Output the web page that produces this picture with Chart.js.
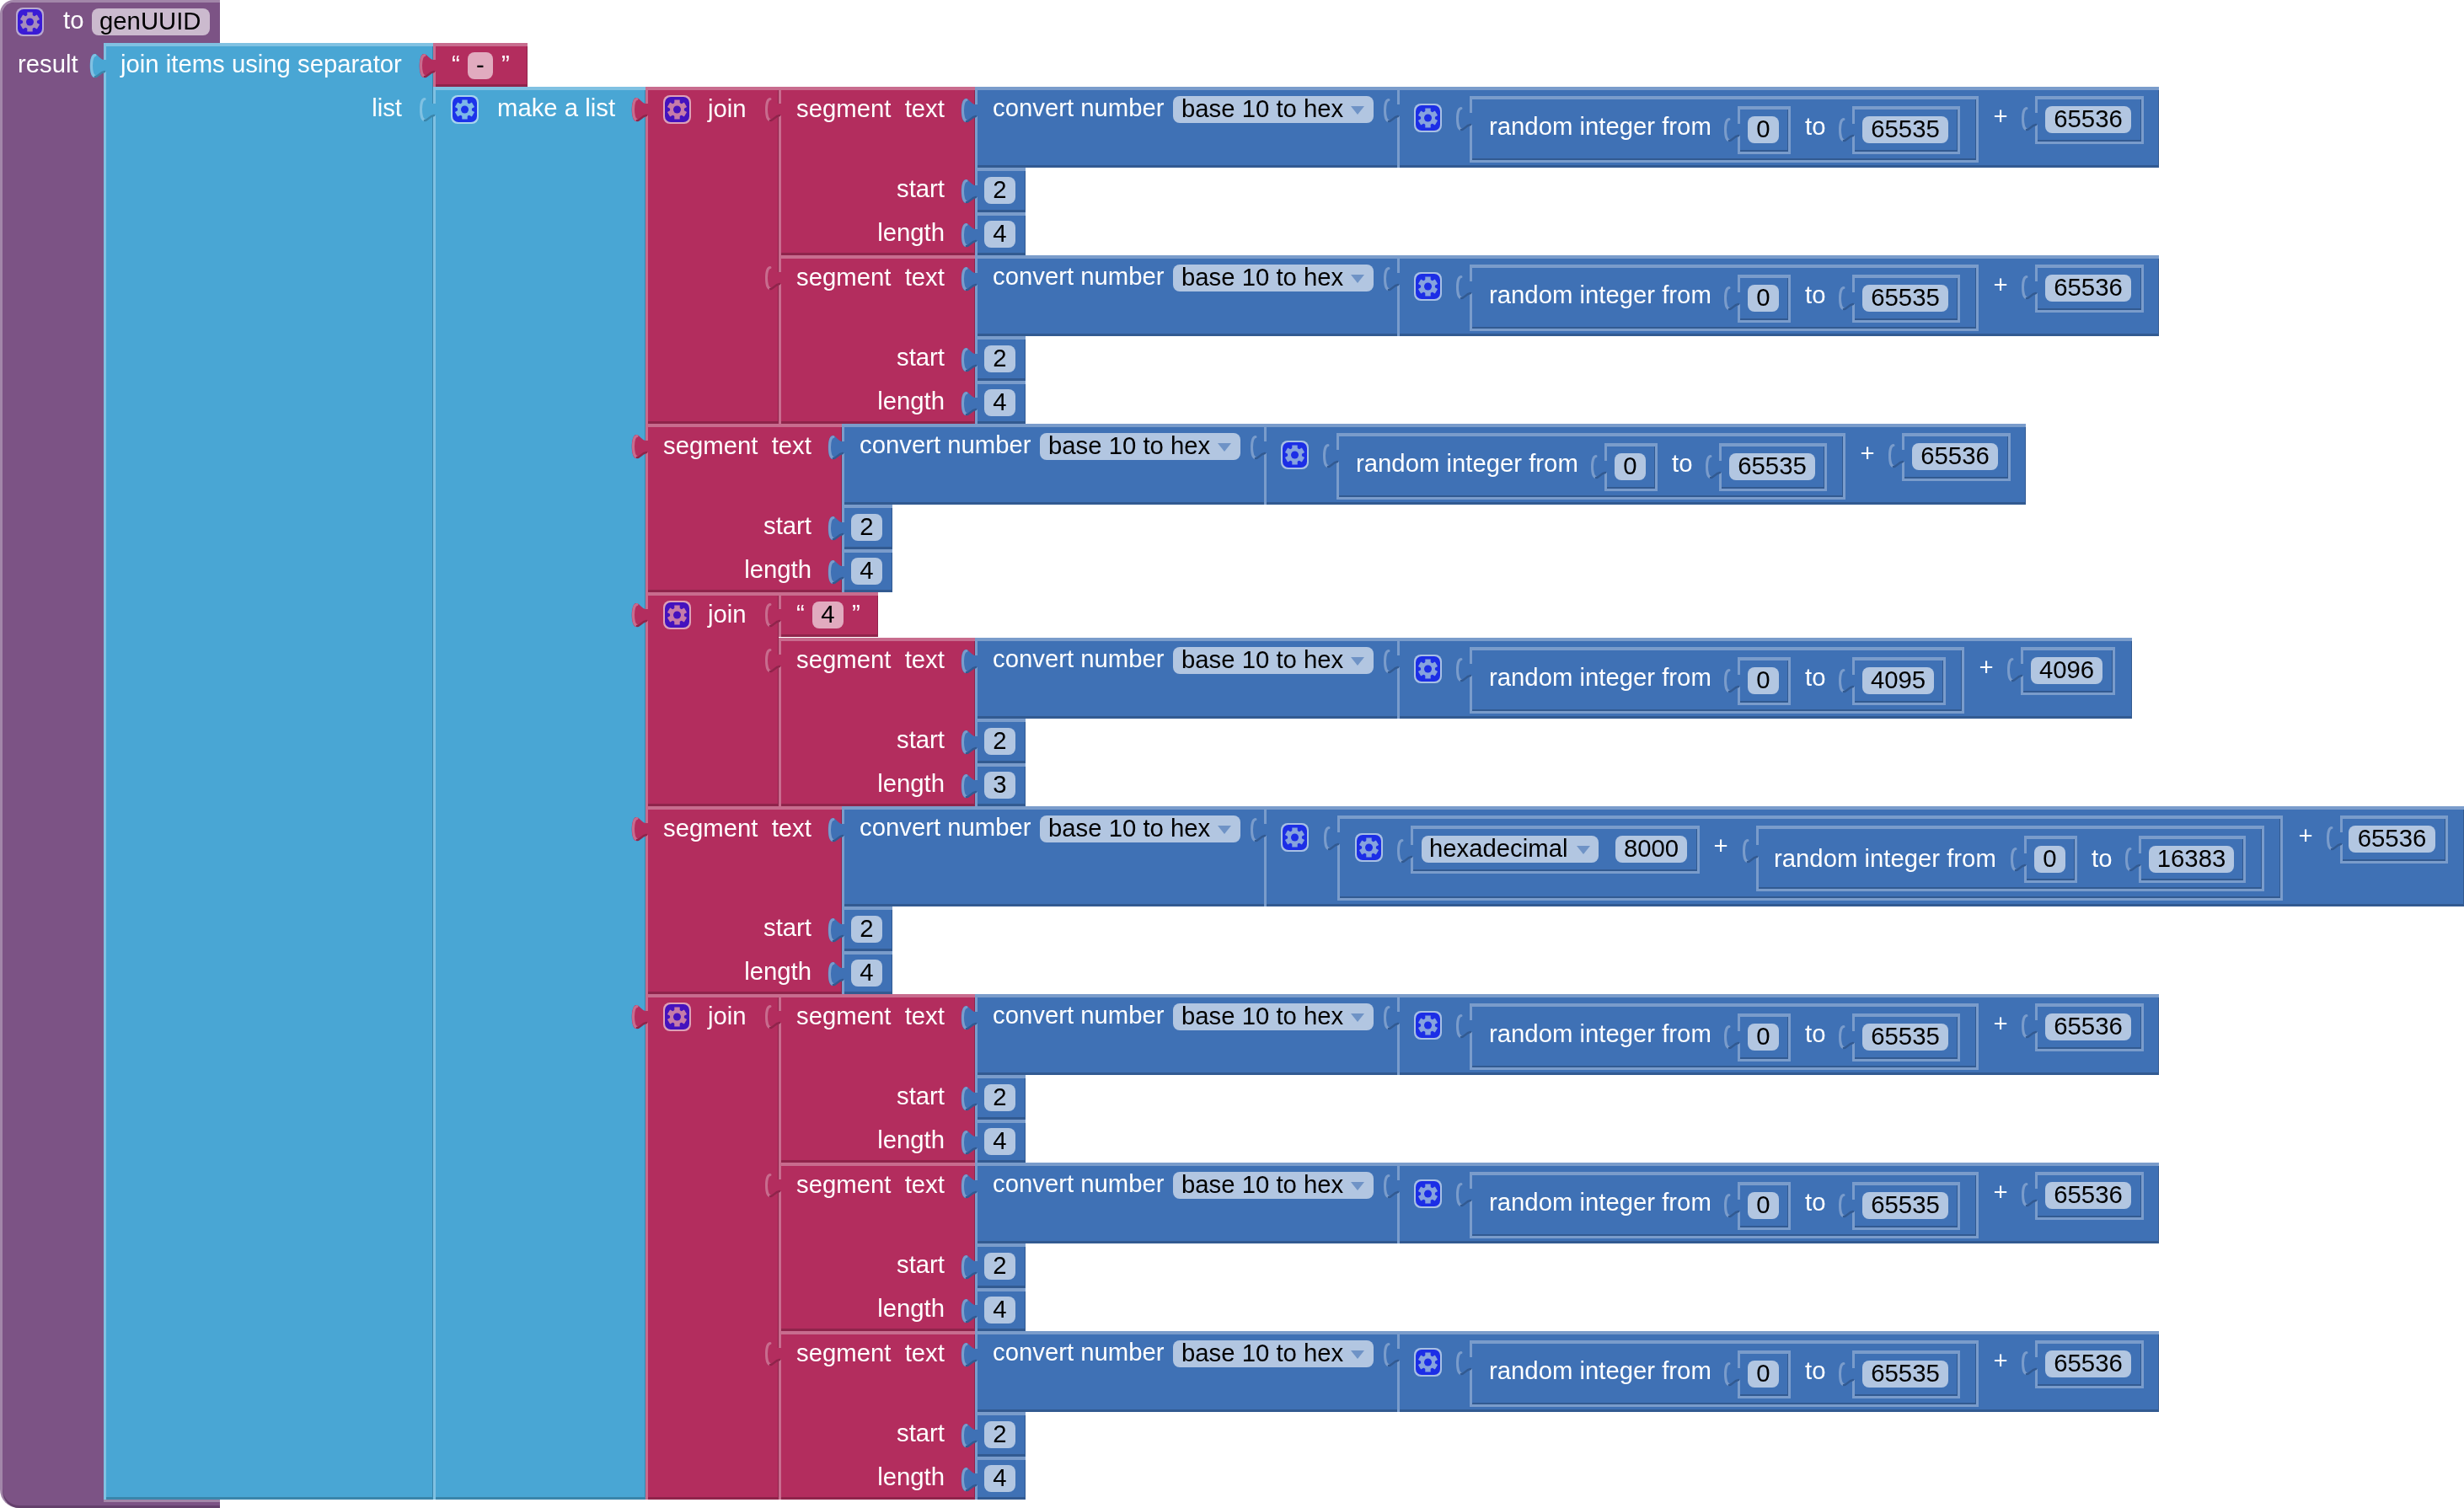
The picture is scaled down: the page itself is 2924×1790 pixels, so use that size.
<!DOCTYPE html>
<html><head><meta charset="utf-8">
<style>html,body{margin:0;padding:0;background:#fff}canvas{display:block}</style>
<script src="https://cdn.jsdelivr.net/npm/chart.js@4"></script>
</head><body><canvas id="c" width="2924" height="1790"></canvas>
<script>
// ---- content ----
const procedureName = "genUUID";
const separator = "-";
const versionDigit = "4";
const hexBaseLabel = "hexadecimal";
const hexBaseValue = "8000";
const convertMode = "base 10 to hex";
const segmentStart = [2, 2, 2, 2, 2, 2, 2, 2];
const segmentLength = [4, 4, 4, 3, 4, 4, 4, 4];
const randomLow = [0, 0, 0, 0, 0, 0, 0, 0];
const randomHigh = [65535, 65535, 65535, 4095, 16383, 65535, 65535, 65535];
const addend = [65536, 65536, 65536, 4096, 65536, 65536, 65536, 65536];
const hexSegment = 4;
const listItems = [["join", [0, 1]], ["seg", [2]], ["joinText", [3]], ["seg", [4]], ["join", [5, 6, 7]]];

// ---- styles ----
const PURPLE = {b:"#7C5385", l:"#A286A9", d:"#64406C", pill:"#CBBACE", sq:"#3A1BD6", sqb:"#B9A9D0", g:"#A58CBC"};
const SKY = {b:"#49A6D4", l:"#80C1E2", d:"#3A85AA", sq:"#1C33EA", sqb:"#A8D4EE", g:"#7DB8E8"};
const RED = {b:"#B32D5E", l:"#C86C8E", d:"#8F244B", pill:"#E1ABBF", sq:"#4412BE", sqb:"#DDA0B8", g:"#C67CA8"};
const BLUE = {b:"#3F71B5", l:"#7A9CCB", d:"#325A91", pill:"#B2C6E1", sq:"#1C2EE6", sqb:"#A8C0E4", g:"#86A3DE"};
const FONT = '29.3px "Liberation Sans", Arial, sans-serif';

// ---- scene assembly ----
const rects = [], labels = [], tabs = [], gears = [], arrows = [];
const rect = (x, y, w, h, color, radius) => rects.push({x, y, w, h, color, radius: radius || 0});
function box(x, y, w, h, c, nested) {
  rect(x, y, w, h, c.b);
  rect(x, y + h - 3, w, 3, c.d);
  if (nested) {
    rect(x + w - 3, y, 3, h, c.l);
    rect(x, y + h - 3, w, 3, c.l);
    rect(x + 3, y + h - 5, w - 6, 2, c.d);
    rect(x + w - 4, y + 4, 1, h - 8, c.d);
  } else {
    rect(x + w - 1, y + 3, 1, h - 3, c.d);
  }
  rect(x, y, w, 4, c.l);
  rect(x, y, 3, h, c.l);
}
const text = (s, x, y, color, align) => labels.push({s: String(s), x, y, color: color || "#fff", align: align || "left"});
const tab = (x, yc, c) => tabs.push({x, yc, c});
function gear(x, y, c) {
  rect(x, y, 33, 34, c.sqb, 8);
  rect(x + 2, y + 2, 29, 30, c.sq, 7);
  gears.push({cx: x + 16.5, cy: y + 17, c});
}
function pill(x, y, w, s, c) {
  rect(x, y, w, 32, c.pill, 8);
  text(s, x + w / 2, y + 25, "#000", "center");
}
function numBlock(x, y, h, pw, pillY, s) {
  box(x, y, pw + 26, h, BLUE, true);
  tab(x, pillY + 16, BLUE);
  pill(x + 12, pillY, pw, s, BLUE);
}
const pw = v => String(v).length >= 5 ? 102 : (String(v).length === 4 ? 85 : 37);

function randomBlock(x, y, low, high) {
  const zx = x + 318, hx = zx + 136;
  const hw = pw(high);
  const right = hx + hw + 26 + 22;
  box(x, y, right - x, 79, BLUE, true);
  tab(x, y + 27, BLUE);
  text("random integer from", x + 23, y + 46);
  numBlock(zx, y + 12, 57, 37, y + 24, low);
  text("to", zx + 80, y + 46);
  box(hx, y + 12, hw + 26, 57, BLUE, true);
  tab(hx, y + 40, BLUE);
  pill(hx + 12, y + 24, hw, high, BLUE);
  return right;
}
function convertBlock(x, y, i) {
  const hex = i === hexSegment;
  const h = hex ? 119 : 96, dv = x + 501;
  let right;
  if (hex) {
    right = 2924;
    box(x, y, right - x, h, BLUE);
    box(dv, y, right - dv, h, BLUE);
    gear(dv + 20, y + 20, BLUE);
    const ox = dv + 87;
    const outerR = ox + 1122;
    box(ox, y + 11, outerR - ox, 101, BLUE, true);
    tab(ox, y + 38, BLUE);
    gear(ox + 21, y + 32, BLUE);
    const hxL = ox + 87;
    box(hxL, y + 23, 343, 57, BLUE, true);
    tab(hxL, y + 53, BLUE);
    rect(hxL + 13, y + 35, 210, 32, BLUE.pill, 8);
    text(hexBaseLabel, hxL + 22, y + 60, "#000");
    arrows.push({x: hxL + 205, y: y + 51});
    pill(hxL + 243, y + 35, 85, hexBaseValue, BLUE);
    text("+", hxL + 368, y + 57, "#fff", "center");
    const rx = hxL + 410;
    const rR = rx + 603;
    box(rx, y + 23, rR - rx, 78, BLUE, true);
    tab(rx, y + 53, BLUE);
    text("random integer from", rx + 21, y + 72);
    numBlock(rx + 318, y + 35, 56, 37, y + 47, randomLow[i]);
    text("to", rx + 398, y + 72);
    box(rx + 454, y + 35, 127, 56, BLUE, true);
    tab(rx + 454, y + 63, BLUE);
    pill(rx + 466, y + 47, 101, randomHigh[i], BLUE);
    text("+", outerR + 27, y + 45, "#fff", "center");
    const ax = outerR + 68;
    box(ax, y + 11, 128, 57, BLUE, true);
    tab(ax, y + 38, BLUE);
    pill(ax + 10, y + 23, 103, addend[i], BLUE);
  } else {
    const hw = pw(randomHigh[i]);
    const rR0 = dv + 86 + 318 + 136 + hw + 48;
    const plusX = rR0 + 26, ax = rR0 + 67, aw = pw(addend[i]);
    right = ax + aw + 27 + (aw === 102 ? 18 : 20);
    box(x, y, right - x, h, BLUE);
    box(dv, y, right - dv, h, BLUE);
    gear(dv + 20, y + 20, BLUE);
    randomBlock(dv + 86, y + 11, randomLow[i], randomHigh[i]);
    text("+", plusX, y + 45, "#fff", "center");
    box(ax, y + 11, aw + 27, 57, BLUE, true);
    tab(ax, y + 38, BLUE);
    pill(ax + 12, y + 23, aw, addend[i], BLUE);
  }
  text("convert number", x + 21, y + 35);
  rect(x + 235, y + 11, 238, 32, BLUE.pill, 8);
  text(convertMode, x + 245, y + 36, "#000");
  arrows.push({x: x + 454, y: y + 27});
  tab(dv, y + 28, BLUE);
  tab(x, y + 28, BLUE);
  return h;
}
function segmentBlock(x, y, i) {
  const cH = i === hexSegment ? 119 : 96, h = cH + 104, cx = x + 233;
  box(x, y, 233, h, RED);
  tab(x, y + 27, RED);
  text("segment  text", x + 21, y + 36);
  convertBlock(cx, y, i);
  const sy = y + cH;
  box(cx, sy, 60, 53, BLUE);
  tab(cx, sy + 28, BLUE);
  pill(cx + 11, sy + 11, 37, segmentStart[i], BLUE);
  text("start", x + 197, sy + 35, "#fff", "right");
  const ly = sy + 53;
  box(cx, ly, 60, 51, BLUE);
  tab(cx, ly + 27, BLUE);
  pill(cx + 11, ly + 10, 37, segmentLength[i], BLUE);
  text("length", x + 197, ly + 34, "#fff", "right");
  return h;
}
const segHeight = i => (i === hexSegment ? 119 : 96) + 104;
function textBlock(x, y, w, h, value, qL, pX, pW, qR, tabY) {
  box(x, y, w, h, RED);
  tab(x, tabY, RED);
  text("\u201C", x + qL, y + 35);
  pill(x + pX, y + 11, pW, value, RED);
  text("\u201D", x + qR, y + 35);
}

// procedure shell
rects.push({x: 0, y: 0, w: 261, h: 1790, color: PURPLE.l, radius: {topLeft: 16, bottomLeft: 22}});
rects.push({x: 3, y: 3, w: 258, h: 1787, color: PURPLE.d, radius: {topLeft: 14, bottomLeft: 20}});
rects.push({x: 3, y: 3, w: 258, h: 1784, color: PURPLE.b, radius: {topLeft: 14, bottomLeft: 20}});
rect(123, 1780, 138, 3, PURPLE.l);
gear(19, 9, PURPLE);
text("to", 75, 34);
rect(109, 10, 140, 32, PURPLE.pill, 8);
text(procedureName, 118, 35, "#000");
text("result", 21, 86);

// join items using separator
box(123, 51, 391, 1729, SKY);
tab(123, 78, SKY);
text("join items using separator", 143, 86);
textBlock(514, 51, 112, 52, separator, 22, 41, 30, 81, 78);
text("list", 477, 138, "#fff", "right");
box(514, 103, 252, 1677, SKY);
tab(514, 130, SKY);
gear(535, 113, SKY);
text("make a list", 590, 138);

// list items
let curY = 103;
for (const [kind, ids] of listItems) {
  const start = curY;
  if (kind === "seg") {
    const h = segHeight(ids[0]);
    segmentBlock(766, curY, ids[0]);
    curY += h;
  } else {
    const extra = kind === "joinText" ? 54 : 0;
    const total = extra + ids.reduce((a, i) => a + segHeight(i), 0);
    box(766, curY, 158, total, RED);
    tab(766, curY + 27, RED);
    gear(787, curY + 10, RED);
    text("join", 840, curY + 36);
    let y = curY;
    if (extra) { textBlock(924, y, 118, 53, versionDigit, 21, 40, 37, 87, y + 27); y += extra; }
    for (const i of ids) { segmentBlock(924, y, i); y += segHeight(i); }
    curY = start + total;
  }
}

// ---- Chart.js rendering: every rectangle is a floating bar on linear scales ----
const datasets = rects.map((r, i) => ({
  data: [{x: r.x + r.w / 2, y: [r.y, r.y + r.h]}],
  barThickness: r.w,
  backgroundColor: r.color,
  borderWidth: 0,
  borderRadius: r.radius,
  borderSkipped: false,
  inflateAmount: 0,
  grouped: false,
  order: rects.length - i
}));

const overlay = {
  id: "blockOverlay",
  afterDatasetsDraw(chart) {
    const {ctx, scales: {x: sx, y: sy}} = chart;
    const X = v => sx.getPixelForValue(v), Y = v => sy.getPixelForValue(v);
    ctx.save();
    for (const t of tabs) {
      const x = X(t.x), y = Y(t.yc), c = t.c;
      ctx.beginPath();
      ctx.moveTo(x + 4, y - 7); ctx.lineTo(x, y - 7);
      ctx.bezierCurveTo(x - 5, y - 8, x - 7, y - 14, x - 11, y - 14);
      ctx.bezierCurveTo(x - 18, y - 14, x - 18, y + 14, x - 11, y + 14);
      ctx.bezierCurveTo(x - 7, y + 14, x - 5, y + 8, x, y + 7);
      ctx.lineTo(x + 4, y + 7); ctx.closePath();
      ctx.fillStyle = c.b; ctx.fill();
      ctx.lineWidth = 3; ctx.lineCap = "round";
      ctx.strokeStyle = c.l;
      ctx.beginPath();
      ctx.moveTo(x - 10, y - 12.5);
      ctx.bezierCurveTo(x - 16, y - 12.5, x - 16, y + 12.5, x - 10, y + 12.5);
      ctx.stroke();
      ctx.strokeStyle = c.d; ctx.lineWidth = 2.5;
      ctx.beginPath();
      ctx.moveTo(x - 10, y + 13);
      ctx.bezierCurveTo(x - 6, y + 13, x - 5, y + 8, x + 1, y + 7);
      ctx.stroke();
    }
    for (const g of gears) {
      const cx = X(g.cx), cy = Y(g.cy);
      ctx.fillStyle = g.c.g;
      ctx.beginPath(); ctx.arc(cx, cy, 8.5, 0, Math.PI * 2); ctx.fill();
      for (let k = 0; k < 6; k++) {
        ctx.save();
        ctx.translate(cx, cy); ctx.rotate(k * Math.PI / 3);
        ctx.fillRect(-3.2, -11.5, 6.4, 6);
        ctx.restore();
      }
      ctx.fillStyle = g.c.sq;
      ctx.beginPath(); ctx.arc(cx, cy, 4.5, 0, Math.PI * 2); ctx.fill();
    }
    ctx.fillStyle = "#6F93C6";
    for (const a of arrows) {
      const x = X(a.x), y = Y(a.y);
      ctx.beginPath(); ctx.moveTo(x - 8, y - 4); ctx.lineTo(x + 8, y - 4); ctx.lineTo(x, y + 6); ctx.closePath(); ctx.fill();
    }
    ctx.font = FONT; ctx.textBaseline = "alphabetic";
    for (const t of labels) {
      ctx.fillStyle = t.color; ctx.textAlign = t.align;
      ctx.fillText(t.s, X(t.x), Y(t.y));
    }
    ctx.restore();
  }
};

new Chart(document.getElementById("c"), {
  type: "bar",
  data: {datasets},
  plugins: [overlay],
  options: {
    responsive: false, animation: false, devicePixelRatio: 1,
    layout: {padding: 0},
    plugins: {legend: {display: false}, tooltip: {enabled: false}, title: {display: false}},
    events: [],
    scales: {
      x: {type: "linear", min: 0, max: 2924, offset: false, display: false},
      y: {type: "linear", min: 0, max: 1790, reverse: true, display: false, stacked: false}
    }
  }
});
</script></body></html>
